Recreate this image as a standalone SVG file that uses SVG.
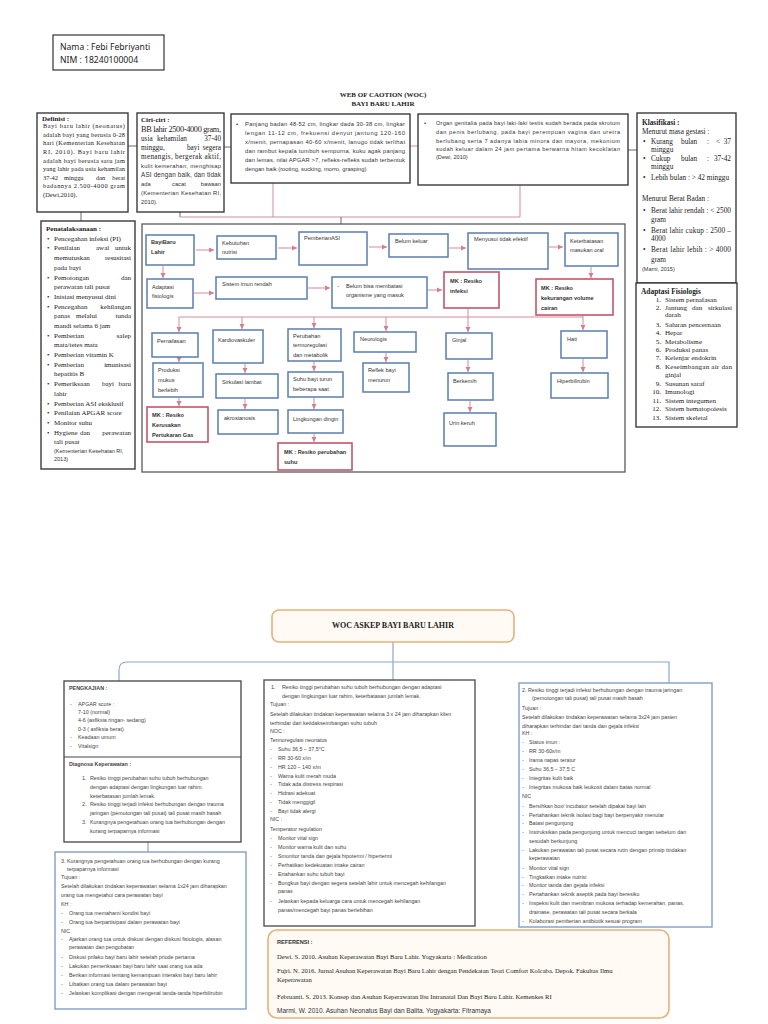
<svg xmlns="http://www.w3.org/2000/svg" width="768" height="1024" viewBox="0 0 768 1024">
<defs>
<style>
.bx{fill:#fff;stroke:#3b3b3b;stroke-width:1.4}
.fl{fill:none;stroke:#5a5a5a;stroke-width:1.3}
.nb{fill:#fff;stroke:#5a7db0;stroke-width:1.5}
.nr{fill:#fff;stroke:#c2566a;stroke-width:1.6}
.cp{fill:none;stroke:#d38c9b;stroke-width:1}
.cg{fill:none;stroke:#6b6b6b;stroke-width:1}
.cb{fill:none;stroke:#8ea7c7;stroke-width:1.2}
.ob{fill:#fffaf3;stroke:#e8b07a;stroke-width:1.6}
.se{font-family:"Liberation Serif",serif;fill:#222}
.sa{font-family:"Liberation Sans",sans-serif;fill:#333}
.b{font-weight:bold}
.e{text-anchor:end}
.ft{font-family:"Liberation Sans",sans-serif;font-size:5.6px;fill:#333}
.bt{font-family:"Liberation Sans",sans-serif;font-size:5.35px;fill:#444}
.nm{font-family:"Noto Sans","Liberation Sans",sans-serif;font-size:8.6px;fill:#222}
</style>
<marker id="ah" markerUnits="userSpaceOnUse" markerWidth="6" markerHeight="6" refX="5" refY="3" orient="auto">
<path d="M0,0.5 L5,3 L0,5.5 z" fill="#d07f90"/>
</marker>
</defs>
<rect width="768" height="1024" fill="#fff"/>

<g id="name">
<rect x="53" y="35" width="111" height="35" fill="#fff" stroke="#333" stroke-width="1.2"/>
<text class="nm" x="60" y="50">Nama : Febi Febriyanti</text>
<text class="nm" x="60" y="63">NIM : 18240100004</text>
</g>

<g id="title-top">
<text class="se b" x="383" y="97" font-size="7" text-anchor="middle">WEB OF CAOTION (WOC)</text>
<text class="se b" x="383" y="106" font-size="7" text-anchor="middle">BAYI BARU LAHIR</text>
</g>

<g id="connectors">
<path class="cg" d="M128,146 H137 M224,147 H231 M628,150 H637 M180,210 V217 M81,212 V221 M685,277 V283"/>
<path class="cp" d="M410,146 H418 M273,183 V217 M520,185 V217 M180,217 H520"/>
<path class="cg" d="M341,217 V224"/>
<g class="cp" marker-end="url(#ah)">
<path d="M196,250 H214"/>
<path d="M278,248 H297"/>
<path d="M369,247 H387"/>
<path d="M449,248 H466"/>
<path d="M549,247 H563"/>
<path d="M591,267 V278"/>
<path d="M163,266 V278"/>
<path d="M194,293 H214"/>
<path d="M308,288 H330"/>
<path d="M428,290 H442"/>
<path d="M179,317 V332"/>
<path d="M242,317 V329"/>
<path d="M314,317 V328"/>
<path d="M386,317 V331"/>
<path d="M468,309 V332"/>
<path d="M583,315 V330"/>
<path d="M179,358 V362"/>
<path d="M179,398 V406"/>
<path d="M245,364 V373"/>
<path d="M245,399 V409"/>
<path d="M314,362 V371"/>
<path d="M314,398 V409"/>
<path d="M314,434 V442"/>
<path d="M386,353 V362"/>
<path d="M468,360 V372"/>
<path d="M470,401 V412"/>
<path d="M583,359 V372"/>
</g>
<path class="cp" d="M179,317 H583"/>
<path class="cb" d="M393,642 V680 M119,681 V670 Q119,662 127,662 H669 V683 M148,842 V852"/>
</g>

<g id="definisi">
<rect class="bx" x="37" y="113" width="91" height="99"/>
<text class="se b" x="42" y="121" font-size="7">Definisi :</text>
<g class="se" font-size="6.4">
<text x="43" y="128" textLength="82" lengthAdjust="spacing">Bayi baru lahir (neonatus)</text>
<text x="43" y="137" textLength="82" lengthAdjust="spacing">adalah bayi yang berusia 0-28</text>
<text x="43" y="145" textLength="82" lengthAdjust="spacing">hari (Kementerian Kesehatan</text>
<text x="43" y="154" textLength="82" lengthAdjust="spacing">RI, 2010). Bayi baru lahir</text>
<text x="43" y="163" textLength="82" lengthAdjust="spacing">adalah bayi berusia satu jam</text>
<text x="43" y="171" textLength="82" lengthAdjust="spacing">yang lahir pada usia kehamilan</text>
<text x="43" y="180">37-42</text><text x="64" y="180">minggu</text><text x="96" y="180">dan</text><text class="e" x="125" y="180">berat</text>
<text x="43" y="188" textLength="82" lengthAdjust="spacing">badannya 2.500-4000 gram</text>
<text x="43" y="197">(Dewi,2010).</text>
</g>
</g>

<g id="ciri">
<rect class="bx" x="137" y="113" width="87" height="99"/>
<text class="se b" x="141" y="122" font-size="7">Ciri-ciri :</text>
<text class="se" x="141" y="132" font-size="8.3" textLength="80" lengthAdjust="spacing">BB lahir 2500-4000 gram,</text>
<g class="se" font-size="7.2">
<text x="141" y="141">usia</text><text x="157" y="141">kehamilan</text><text class="e" x="221" y="141">37-40</text>
<text x="141" y="150">minggu,</text><text x="187" y="150">bayi</text><text class="e" x="221" y="150">segera</text>
</g>
<text class="se" x="141" y="159" font-size="7.2" textLength="80" lengthAdjust="spacing">menangis, bergerak aktif,</text>
<text class="sa" x="141" y="168" font-size="5.8" textLength="80" lengthAdjust="spacing">kulit kemerahan, menghisap</text>
<text class="sa" x="141" y="177" font-size="6.4" textLength="80" lengthAdjust="spacing">ASI dengan baik, dan tidak</text>
<g class="sa" font-size="5.8">
<text x="141" y="186">ada</text><text x="172" y="186">cacat</text><text class="e" x="221" y="186">bawaan</text>
</g>
<text class="sa" x="141" y="195" font-size="5.8" textLength="80" lengthAdjust="spacing">(Kementerian Kesehatan RI,</text>
<text class="sa" x="141" y="204" font-size="5.8">2010).</text>
</g>

<g id="panjang">
<rect class="bx" x="231" y="114" width="179" height="69"/>
<text class="sa" x="236" y="126" font-size="6">•</text>
<g class="sa" font-size="5.8">
<text x="245" y="126" textLength="160" lengthAdjust="spacing">Panjang badan 48-52 cm, lingkar dada 30-38 cm, lingkar</text>
<text x="245" y="135" textLength="160" lengthAdjust="spacing">lengan 11-12 cm, frekuensi denyut jantung 120-160</text>
<text x="245" y="144" textLength="160" lengthAdjust="spacing">x/menit, pernapasan 40-60 x/menit, lanugo tidak terlihat</text>
<text x="245" y="153" textLength="160" lengthAdjust="spacing">dan rambut kepala tumbuh sempurna, kuku agak panjang</text>
<text x="245" y="162" textLength="160" lengthAdjust="spacing">dan lemas, nilai APGAR &gt;7, refleks-refleks sudah terbentuk</text>
<text x="245" y="171">dengan baik (rooting, sucking, morro, grasping)</text>
</g>
</g>

<g id="organ">
<rect class="bx" x="418" y="114" width="210" height="71"/>
<text class="sa" x="424" y="125" font-size="6">•</text>
<g class="sa" font-size="5.6">
<text x="436" y="125" textLength="184" lengthAdjust="spacing">Organ genitalia pada bayi laki-laki testis sudah berada pada skrotum</text>
<text x="436" y="134" textLength="184" lengthAdjust="spacing">dan penis berlubang, pada bayi perempuan vagina dan uretra</text>
<text x="436" y="143" textLength="184" lengthAdjust="spacing">berlubang serta 7 adanya labia minora dan mayora, mekonium</text>
<text x="436" y="151" textLength="184" lengthAdjust="spacing">sudah keluar dalam 24 jam pertama berwarna hitam kecoklatan</text>
<text x="436" y="159">(Dewi, 2010)</text>
</g>
</g>

<g id="klasifikasi">
<rect class="bx" x="637" y="113" width="99" height="170"/>
<g class="se" font-size="7.3">
<text class="b" x="642" y="125">Klasifikasi :</text>
<text x="642" y="134">Menurut masa gestasi :</text>
<text x="643" y="144">•</text><text x="651" y="144">Kurang</text><text x="681" y="144">bulan</text><text x="707" y="144">:</text><text x="716" y="144">&lt;</text><text class="e" x="731" y="144">37</text>
<text x="651" y="152">minggu</text>
<text x="643" y="161">•</text><text x="651" y="161">Cukup</text><text x="681" y="161">bulan</text><text x="707" y="161">:</text><text class="e" x="731" y="161">37-42</text>
<text x="651" y="169">minggu</text>
<text x="643" y="180">•</text><text x="651" y="180">Lebih bulan : &gt; 42 minggu</text>
<text x="642" y="201">Menurut Berat Badan :</text>
<text x="643" y="213">•</text><text x="651" y="213" textLength="80" lengthAdjust="spacing">Berat lahir rendah : &lt; 2500</text>
<text x="651" y="222">gram</text>
<text x="643" y="233">•</text><text x="651" y="233" textLength="80" lengthAdjust="spacing">Berat lahir cukup : 2500 –</text>
<text x="651" y="241">4000</text>
<text x="643" y="252">•</text><text x="651" y="252" textLength="80" lengthAdjust="spacing">Berat lahir lebih : &gt; 4000</text>
<text x="651" y="262">gram</text>
</g>
<text class="sa" x="642" y="271" font-size="5.5">(Marni, 2015)</text>
</g>

<g id="adaptasi-fisiologis">
<rect class="bx" x="636" y="283" width="101" height="144"/>
<text class="se b" x="641" y="294" font-size="7.4">Adaptasi Fisiologis</text>
<g class="se" font-size="7.1">
<text x="661" y="302" text-anchor="end">1.</text><text x="665" y="302">Sistem pernafasan</text>
<text x="661" y="310" text-anchor="end">2.</text><text x="665" y="310">Jantung</text><text x="692" y="310">dan</text><text class="e" x="732" y="310">sirkulasi</text>
<text x="665" y="317">darah</text>
<text x="661" y="327" text-anchor="end">3.</text><text x="665" y="327">Saluran pencernaan</text>
<text x="661" y="335" text-anchor="end">4.</text><text x="665" y="335">Hepar</text>
<text x="661" y="344" text-anchor="end">5.</text><text x="665" y="344">Metabolisme</text>
<text x="661" y="352" text-anchor="end">6.</text><text x="665" y="352">Produksi panas</text>
<text x="661" y="360" text-anchor="end">7.</text><text x="665" y="360">Kelenjar endokrin</text>
<text x="661" y="369" text-anchor="end">8.</text><text x="665" y="369" textLength="67" lengthAdjust="spacing">Keseimbangan air dan</text>
<text x="665" y="377">ginjal</text>
<text x="661" y="386" text-anchor="end">9.</text><text x="665" y="386">Susunan saraf</text>
<text x="661" y="394" text-anchor="end">10.</text><text x="665" y="394">Imunologi</text>
<text x="661" y="403" text-anchor="end">11.</text><text x="665" y="403">Sistem integumen</text>
<text x="661" y="411" text-anchor="end">12.</text><text x="665" y="411">Sistem hematopoiesis</text>
<text x="661" y="420" text-anchor="end">13.</text><text x="665" y="420">Sistem skeletal</text>
</g>
</g>

<g id="penatalaksanaan">
<rect class="bx" x="41" y="221" width="94" height="248"/>
<g class="se" font-size="7">
<text class="b" x="46" y="231">Penatalaksanaan :</text>
<text x="47" y="241">•</text><text x="54" y="241">Pencegahan infeksi (PI)</text>
<text x="47" y="250">•</text><text x="54" y="250">Penilaian</text><text x="96" y="250">awal</text><text class="e" x="131" y="250">untuk</text>
<text x="54" y="260">memutuskan</text><text class="e" x="131" y="260">resusitasi</text>
<text x="54" y="270">pada bayi</text>
<text x="47" y="280">•</text><text x="54" y="280">Pemotongan</text><text class="e" x="131" y="280">dan</text>
<text x="54" y="289">perawatan tali pusat</text>
<text x="47" y="299">•</text><text x="54" y="299">Inisiasi menyusui dini</text>
<text x="47" y="309">•</text><text x="54" y="309">Pencegahan</text><text class="e" x="131" y="309">kehilangan</text>
<text x="54" y="318">panas</text><text x="76" y="318">melalui</text><text class="e" x="131" y="318">tunda</text>
<text x="54" y="328">mandi selama 6 jam</text>
<text x="47" y="338">•</text><text x="54" y="338">Pemberian</text><text class="e" x="131" y="338">salep</text>
<text x="54" y="347">mata/tetes mata</text>
<text x="47" y="357">•</text><text x="54" y="357">Pemberian vitamin K</text>
<text x="47" y="367">•</text><text x="54" y="367">Pemberian</text><text class="e" x="131" y="367">imunisasi</text>
<text x="54" y="376">hepatitis B</text>
<text x="47" y="386">•</text><text x="54" y="386">Pemeriksaan</text><text x="102" y="386">bayi</text><text class="e" x="131" y="386">baru</text>
<text x="54" y="396">lahir</text>
<text x="47" y="406">•</text><text x="54" y="406">Pemberian ASI eksklusif</text>
<text x="47" y="415">•</text><text x="54" y="415">Penilaian APGAR score</text>
<text x="47" y="425">•</text><text x="54" y="425">Monitor suhu</text>
<text x="47" y="435">•</text><text x="54" y="435">Hygiene</text><text x="80" y="435">dan</text><text class="e" x="131" y="435">perawatan</text>
<text x="54" y="444">tali pusat</text>
</g>
<text class="sa" x="54" y="453" font-size="5.5">(Kementerian Kesehatan RI,</text>
<text class="sa" x="54" y="461" font-size="5.5">2013)</text>
</g>

<g id="flow-frame">
<rect class="fl" x="142" y="224" width="483" height="248"/>
</g>

<g id="n-bayi"><rect class="nb" x="146" y="235" width="48" height="30"/><text class="ft b" x="151" y="244">BayiBaru</text><text class="ft b" x="151" y="254">Lahir</text></g>
<g id="n-kebutuhan"><rect class="nb" x="217" y="236" width="59" height="23"/><text class="ft" x="222" y="245">Kebutuhan</text><text class="ft" x="222" y="254">nutrisi</text></g>
<g id="n-asi"><rect class="nb" x="299" y="232" width="68" height="33"/><text class="ft" x="304" y="240">PemberianASI</text></g>
<g id="n-belum"><rect class="nb" x="389" y="234" width="59" height="23"/><text class="ft" x="395" y="243">Belum keluar</text></g>
<g id="n-menyusui"><rect class="nb" x="468" y="233" width="80" height="36"/><text class="ft" x="474" y="241">Menyusui tidak efektif</text></g>
<g id="n-keterbatasan"><rect class="nb" x="565" y="233" width="53" height="33"/><text class="ft" x="570" y="243">Keterbatasan</text><text class="ft" x="570" y="252">masukan oral</text></g>
<g id="n-adaptasi"><rect class="nb" x="147" y="279" width="46" height="29"/><text class="ft" x="152" y="289">Adaptasi</text><text class="ft" x="152" y="298">fisiologis</text></g>
<g id="n-imun"><rect class="nb" x="216" y="277" width="91" height="22"/><text class="ft" x="222" y="286">Sistem imun rendah</text></g>
<g id="n-belumbisa"><rect class="nb" x="332" y="277" width="95" height="31"/><text class="ft" x="337" y="288">-</text><text class="ft" x="346" y="288">Belum bisa membatasi</text><text class="ft" x="346" y="297">organisme yang masuk</text></g>
<g id="n-mk-infeksi"><rect class="nr" x="444" y="272" width="55" height="36"/><text class="ft b" x="450" y="283">MK : Resiko</text><text class="ft b" x="450" y="293">infeksi</text></g>
<g id="n-mk-volume"><rect class="nr" x="536" y="279" width="77" height="36"/><text class="ft b" x="541" y="290">MK : Resiko</text><text class="ft b" x="541" y="300">kekurangan volume</text><text class="ft b" x="541" y="310">cairan</text></g>
<g id="n-pernafasan"><rect class="nb" x="152" y="333" width="46" height="24"/><text class="ft" x="157" y="343">Pernafasan</text></g>
<g id="n-kardio"><rect class="nb" x="213" y="330" width="50" height="33"/><text class="ft" x="218" y="342">Kardiovaskuler</text></g>
<g id="n-perubahan"><rect class="nb" x="288" y="329" width="53" height="32"/><text class="ft" x="293" y="338">Perubahan</text><text class="ft" x="293" y="347">termoregulasi</text><text class="ft" x="293" y="357">dan metabolik</text></g>
<g id="n-neuro"><rect class="nb" x="354" y="332" width="62" height="20"/><text class="ft" x="360" y="341">Neurologis</text></g>
<g id="n-ginjal"><rect class="nb" x="446" y="333" width="46" height="26"/><text class="ft" x="452" y="342">Ginjal</text></g>
<g id="n-hati"><rect class="nb" x="561" y="331" width="46" height="27"/><text class="ft" x="567" y="341">Hati</text></g>
<g id="n-produksi"><rect class="nb" x="153" y="363" width="50" height="34"/><text class="ft" x="158" y="372">Produksi</text><text class="ft" x="158" y="382">mukus</text><text class="ft" x="158" y="392">berlebih</text></g>
<g id="n-sirkulasi"><rect class="nb" x="216" y="374" width="62" height="24"/><text class="ft" x="222" y="384">Sirkulasi lambat</text></g>
<g id="n-suhu"><rect class="nb" x="288" y="372" width="55" height="25"/><text class="ft" x="293" y="381">Suhu bayi turun</text><text class="ft" x="293" y="391">beberapa saat</text></g>
<g id="n-reflek"><rect class="nb" x="363" y="363" width="46" height="29"/><text class="ft" x="368" y="372">Reflek bayi</text><text class="ft" x="368" y="382">menurun</text></g>
<g id="n-berkemih"><rect class="nb" x="448" y="373" width="45" height="27"/><text class="ft" x="453" y="383">Berkemih</text></g>
<g id="n-hiper"><rect class="nb" x="551" y="373" width="57" height="25"/><text class="ft" x="557" y="383">Hiperbilirubin</text></g>
<g id="n-mk-gas"><rect class="nr" x="147" y="407" width="61" height="35"/><text class="ft b" x="152" y="417">MK : Resiko</text><text class="ft b" x="152" y="427">Kerusakan</text><text class="ft b" x="152" y="437">Pertukaran Gas</text></g>
<g id="n-akro"><rect class="nb" x="218" y="410" width="60" height="24"/><text class="ft" x="224" y="420">akrosianosis</text></g>
<g id="n-lingkungan"><rect class="nb" x="288" y="410" width="55" height="23"/><text class="ft" x="293" y="421">Lingkungan dingin</text></g>
<g id="n-urin"><rect class="nb" x="444" y="413" width="52" height="33"/><text class="ft" x="449" y="425">Urin keruh</text></g>
<g id="n-mk-suhu"><rect class="nr" x="278" y="443" width="74" height="27"/><text class="ft b" x="284" y="454">MK : Resiko perubahan</text><text class="ft b" x="284" y="464">suhu</text></g>

<g id="title-askep">
<rect class="ob" x="272" y="610" width="242" height="32" rx="7"/>
<text class="se b" x="393" y="628" font-size="8" text-anchor="middle">WOC ASKEP BAYI BARU LAHIR</text>
</g>

<g id="pengkajian">
<rect x="64" y="681" width="177" height="161" fill="#fff" stroke="#444" stroke-width="1.3"/>
<line x1="64" y1="757" x2="241" y2="757" stroke="#444" stroke-width="1.2"/>
<g class="bt">
<text class="b" x="69" y="690">PENGKAJIAN :</text>
<text x="70" y="706">-</text><text x="78" y="706">APGAR score :</text>
<text x="78" y="714">7-10 (normal)</text>
<text x="78" y="722">4-6 (asfiksia ringan- sedang)</text>
<text x="78" y="731">0-3 ( asfiksia berat)</text>
<text x="70" y="739">-</text><text x="78" y="739">Keadaan umum</text>
<text x="70" y="748">-</text><text x="78" y="748">Vitalsign</text>
<text class="b" x="69" y="766">Diagnosa Keperawatan :</text>
<text x="82" y="780">1.</text><text x="90" y="780">Resiko tinggi perubahan suhu tubuh berhubungan</text>
<text x="90" y="789">dengan adaptasi dengan lingkungan luar rahim,</text>
<text x="90" y="798">keterbatasan jumlah lemak.</text>
<text x="82" y="806">2.</text><text x="90" y="806">Resiko tinggi terjadi infeksi berhubungan dengan trauma</text>
<text x="90" y="815">jaringan (pemotongan tali pusat) tali pusat masih basah</text>
<text x="82" y="824">3.</text><text x="90" y="824">Kurangnya pengetahuan orang tua berhubungan dengan</text>
<text x="90" y="833">kurang terpaparnya informasi</text>
</g>
</g>

<g id="diagnosa-3">
<rect x="55" y="852" width="191" height="157" fill="#fff" stroke="#7f9fc8" stroke-width="1.4"/>
<g class="bt">
<text x="61" y="863">3. Kurangnya pengetahuan orang tua berhubungan dengan kurang</text>
<text x="67" y="871">terpaparnya informasi</text>
<text x="61" y="879">Tujuan :</text>
<text x="61" y="888">Setelah dilakukan tindakan keperawatan selama 1x24 jam diharapkan</text>
<text x="61" y="897">orang tua mengetahui cara perawatan bayi</text>
<text x="61" y="906">KH :</text>
<text x="61" y="915">-</text><text x="69" y="915">Orang tua memahami kondisi bayi</text>
<text x="61" y="924">-</text><text x="69" y="924">Orang tua berpartisipasi dalam perawatan bayi</text>
<text x="61" y="933">NIC</text>
<text x="61" y="941">-</text><text x="69" y="941">Ajarkan orang tua untuk diskusi dengan diskusi fisiologis, alasan</text>
<text x="69" y="949">perawatan dan pengobatan</text>
<text x="61" y="959">-</text><text x="69" y="959">Diskusi prilaku bayi baru lahir setelah priode pertama</text>
<text x="61" y="968">-</text><text x="69" y="968">Lakukan pemeriksaan bayi baru lahir saat orang tua ada</text>
<text x="61" y="977">-</text><text x="69" y="977">Berikan informasi tentang kemampuan interaksi bayi baru lahir</text>
<text x="61" y="986">-</text><text x="69" y="986">Libatkan orang tua dalam perawatan bayi</text>
<text x="61" y="995">-</text><text x="69" y="995">Jelaskan komplikasi dengan mengenal tanda-tanda hiperbilirubin</text>
</g>
</g>

<g id="diagnosa-1">
<rect x="264" y="680" width="211" height="246" fill="#fff" stroke="#555" stroke-width="1.4"/>
<g class="bt">
<text x="271" y="689">1.</text><text x="282" y="689">Resiko tinggi perubahan suhu tubuh berhubungan dengan  adaptasi</text>
<text x="282" y="698">dengan lingkungan luar rahim, keterbatasan jumlah lemak.</text>
<text x="270" y="706">Tujuan :</text>
<text x="270" y="716">Setelah dilakukan tindakan keperawatan selama 3 x 24 jam diharapkan klien</text>
<text x="270" y="725">terhindar dari ketidakseimbangan suhu tubuh</text>
<text x="270" y="733">NOC :</text>
<text x="270" y="742">Termoregulasi neonatus</text>
<text x="270" y="751">-</text><text x="278" y="751">Suhu 36,5 – 37,5°C</text>
<text x="270" y="760">-</text><text x="278" y="760">RR 30-60 x/m</text>
<text x="270" y="769">-</text><text x="278" y="769">HR 120 – 140 x/m</text>
<text x="270" y="778">-</text><text x="278" y="778">Warna kulit merah muda</text>
<text x="270" y="786">-</text><text x="278" y="786">Tidak ada distress respirasi</text>
<text x="270" y="795">-</text><text x="278" y="795">Hidrasi adekuat</text>
<text x="270" y="804">-</text><text x="278" y="804">Tidak menggigil</text>
<text x="270" y="813">-</text><text x="278" y="813">Bayi tidak alergi</text>
<text x="270" y="821">NIC :</text>
<text x="270" y="831">Temperatur regulation</text>
<text x="270" y="840">-</text><text x="278" y="840">Monitor vital sign</text>
<text x="270" y="849">-</text><text x="278" y="849">Monitor warna kulit dan suhu</text>
<text x="270" y="858">-</text><text x="278" y="858">Smonitor tanda dan gejala hipotermi / hipertermi</text>
<text x="270" y="867">-</text><text x="278" y="867">Perhatikan kedekuatan intake cairan</text>
<text x="270" y="876">-</text><text x="278" y="876">Ertahankan suhu tubuh bayi</text>
<text x="270" y="885">-</text><text x="278" y="885">Bungkus bayi dengan segera setelah lahir  untuk mencegah kehilangan</text>
<text x="278" y="893">panas</text>
<text x="270" y="903">-</text><text x="278" y="903">Jelaskan kepada keluarga cara untuk mencegah kehilangan</text>
<text x="278" y="912">panas/mencegah bayi panas berlebihan</text>
</g>
</g>

<g id="diagnosa-2">
<rect x="519" y="683" width="193" height="244" fill="#fff" stroke="#7f9fc8" stroke-width="1.4"/>
<g class="bt">
<text x="522" y="692">2. Resiko tinggi terjadi infeksi berhubungan dengan trauma jaringan</text>
<text x="532" y="700">(pemotongan tali pusat) tali pusat masih basah</text>
<text x="522" y="710">Tujuan :</text>
<text x="522" y="719">Setelah dilakukan tindakan keperawatan selama 3x24 jam pasien</text>
<text x="522" y="728">diharapkan terhindar dari tanda dan gejala infeksi</text>
<text x="522" y="735">KH :</text>
<text x="522" y="744">-</text><text x="529" y="744">Status imun :</text>
<text x="522" y="753">-</text><text x="529" y="753">RR 30-60x/m</text>
<text x="522" y="762">-</text><text x="529" y="762">Irama napas teratur</text>
<text x="522" y="771">-</text><text x="529" y="771">Suhu 36,5 – 37,5 C</text>
<text x="522" y="780">-</text><text x="529" y="780">Integritas kulit baik</text>
<text x="522" y="789">-</text><text x="529" y="789">Integritas mukosa baik leukosit dalam batas normal</text>
<text x="522" y="798">NIC</text>
<text x="522" y="808">-</text><text x="529" y="808">Bersihkan box/ incubator setelah dipakai bayi lain</text>
<text x="522" y="817">-</text><text x="529" y="817">Pertahankan teknik isolasi bagi bayi berpenyakir menular</text>
<text x="522" y="825">-</text><text x="529" y="825">Batasi pengunjung</text>
<text x="522" y="834">-</text><text x="529" y="834">Instruksikan pada pengunjung untuk mencuci tangan sebelum dan</text>
<text x="529" y="843">sesudah berkunjung</text>
<text x="522" y="852">-</text><text x="529" y="852">Lakukan perawatan tali pusat secara rutin dengan prinsip tindakan</text>
<text x="529" y="860">keperawatan</text>
<text x="522" y="870">-</text><text x="529" y="870">Monitor vital sign</text>
<text x="522" y="879">-</text><text x="529" y="879">Tingkatkan intake nutrisi</text>
<text x="522" y="887">-</text><text x="529" y="887">Monitor tanda dan gejala infeksi</text>
<text x="522" y="896">-</text><text x="529" y="896">Pertahankan teknik aseptik pada bayi beresiko</text>
<text x="522" y="905">-</text><text x="529" y="905">Inspeksi kulit dan membran mukosa terhadap kemerahan, panas,</text>
<text x="529" y="914">drainase, perawatan tali pusat secara berkala</text>
<text x="522" y="923">-</text><text x="529" y="923">Kolaborasi pemberian antibiotik sesuai program</text>
</g>
</g>

<g id="referensi">
<rect class="ob" x="268" y="930" width="401" height="88" rx="9"/>
<text class="sa b" x="277" y="944" font-size="5.6">REFERENSI :</text>
<g class="se" font-size="6.6">
<text x="277" y="959">Dewi. S. 2010. Asuhan Keperawatan Bayi Baru Lahir. Yogyakarta : Medication</text>
<text x="277" y="973">Fujri. N. 2016. Jurnal Asuhan Keperawatan Bayi Baru Lahir dengan Pendekatan Teori Comfort Kolcaba. Depok. Fakultas Ilmu</text>
<text x="277" y="982">Keperawatan</text>
<text x="277" y="999">Februanti. S. 2013. Konsep dan Asuhan Keperawatan Ibu Intranatal Dan Bayi Baru Lahir. Kemenkes RI</text>
</g>
<text class="sa" x="277" y="1013" font-size="6.5">Marmi,  W. 2010. Asuhan Neonatus Bayi dan Balita. Yogyakarta: Fitramaya</text>
</g>
</svg>
